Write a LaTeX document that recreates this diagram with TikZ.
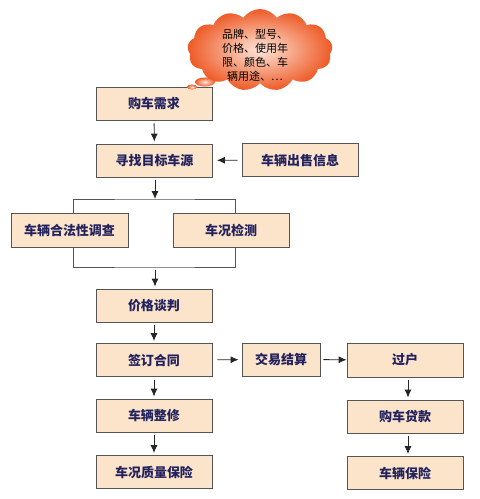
\documentclass[tikz,border=0pt]{standalone}
\usepackage{fontspec}
\newfontfamily\cjk{Noto Sans CJK SC}
\usetikzlibrary{shapes.symbols,shapes.geometric,arrows.meta}
\definecolor{boxfill}{HTML}{FCE4CA}
\definecolor{boxline}{HTML}{555555}
\definecolor{boxtext}{HTML}{22225E}
\definecolor{cloudout}{HTML}{EE5A26}
\definecolor{cloudin}{HTML}{FDE6DA}
\tikzset{
  box/.style={draw=boxline, fill=boxfill, line width=0.8pt, minimum width=116pt,
    minimum height=33pt, inner sep=0pt, text=boxtext,
    font=\cjk\bfseries\fontsize{13}{15}\selectfont},
  arr/.style={draw=black!85, line width=0.9pt, -{Latex[length=8pt,width=7pt]},
    shorten <=3pt, shorten >=2pt},
  joint/.style={draw=boxline, line width=0.8pt},
  puff/.style={shading=radial, inner color=cloudin, outer color=cloudout}
}
\begin{document}
\begin{tikzpicture}[x=1pt,y=-1pt]
            \useasboundingbox (0,0) rectangle (480,499);

            \node[box] (need) at (154,103.5) {购车需求};
            \node[box] (find) at (154.5,160.5) {寻找目标车源};
            \node[box] (sale) at (300,160) {车辆出售信息};
            \node[box,minimum width=117pt,minimum height=34pt] (legal) at (69.5,230) {车辆合法性调查};
            \node[box,minimum height=34pt] (check) at (231,230) {车况检测};
            \node[box] (price) at (154,305.5) {价格谈判};
            \node[box] (sign) at (154,360) {签订合同};
            \node[box,minimum width=78pt] (settle) at (281,359.5) {交易结算};
            \node[box,minimum height=34pt] (transfer) at (405,360) {过户};
            \node[box] (repair) at (154,415.5) {车辆整修};
            \node[box] (warranty) at (154,472) {车况质量保险};
            \node[box] (loan) at (405,416.5) {购车贷款};
            \node[box] (insure) at (405,473) {车辆保险};

            \coordinate (split) at (155,199);
            \coordinate (merge) at (155,267);

            \draw[arr] (need) -- (find);
            \draw[arr,shorten <=4pt,shorten >=4pt] (sale) -- (find);
            \draw[arr,shorten >=0pt] (find.south -| split) -- (split);
            \draw[joint] ([xshift=3.5pt]legal.north) |- (split) -| ([xshift=4pt]check.north);
            \draw[joint] ([xshift=3.5pt]legal.south) |- (merge) -| ([xshift=4pt]check.south);
            \draw[arr] (merge) -- (merge |- price.north);
            \draw[arr] (price) -- (sign);
            \draw[arr] (sign) -- (repair);
            \draw[arr] (repair) -- (warranty);
            \draw[arr,shorten <=5pt,shorten >=3pt] (sign) -- (settle);
            \draw[arr,shorten >=0pt] (settle) -- (transfer);
            \draw[arr] ([xshift=3pt]transfer.south) -- ([xshift=3pt]loan.north);
            \draw[arr] ([xshift=3pt]loan.south) -- ([xshift=3pt]insure.north);

            \node[cloud, cloud puffs=13, cloud puff arc=110, aspect=1.7, minimum width=145pt,
              minimum height=82pt, puff] (wish) at (260,50) {};
            \node[puff, ellipse, minimum width=20pt, minimum height=9pt, inner sep=0pt] (dot1) at (205,82) {};
            \node[puff, ellipse, minimum width=10pt, minimum height=5pt, inner sep=0pt] (dot2) at (192,87) {};
            \node[align=center, font=\cjk\fontsize{11}{14}\selectfont, inner sep=0pt] (wishtext) at (255,55)
              {品牌、型号、\\价格、使用年\\限、颜色、车\\辆用途、…};
\end{tikzpicture}
\end{document}
